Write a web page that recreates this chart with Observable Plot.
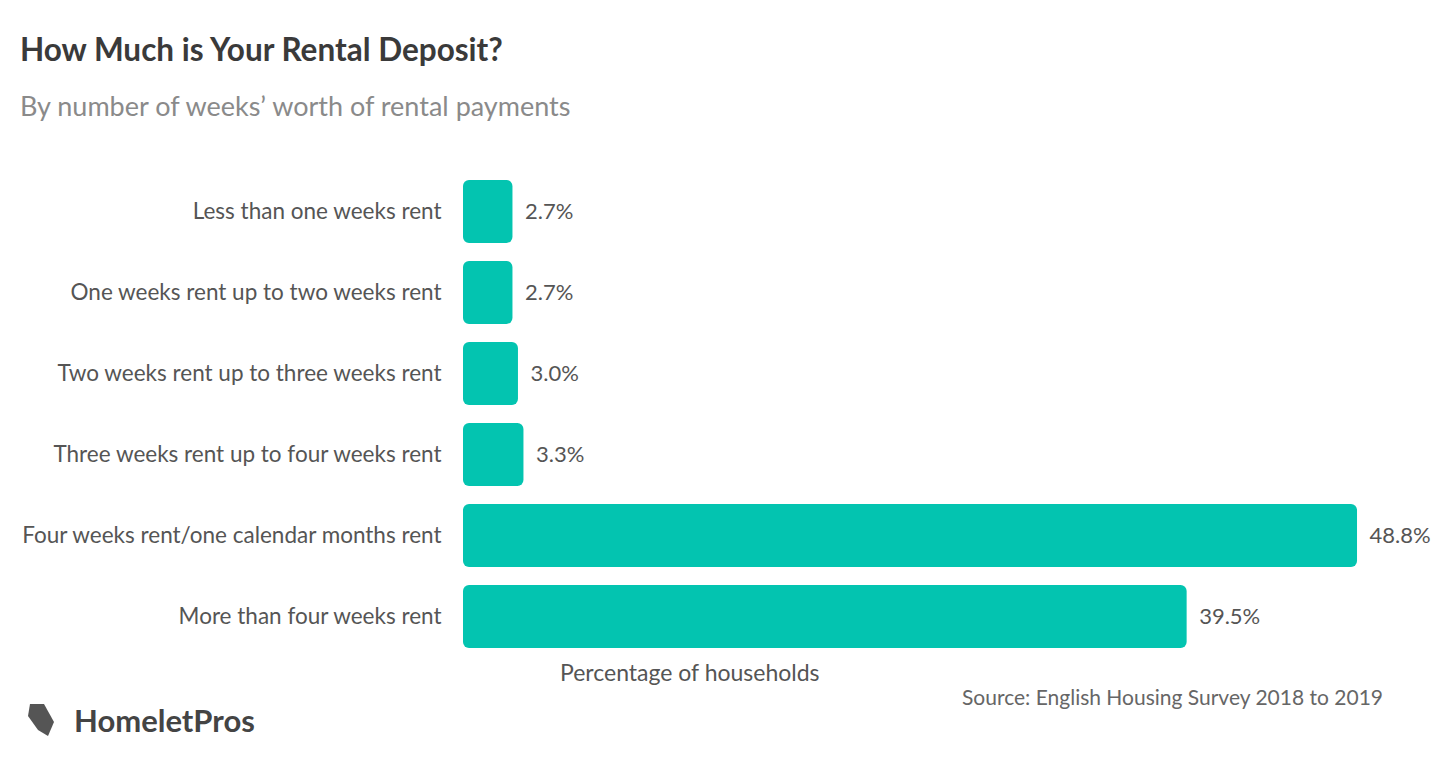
<!DOCTYPE html>
<html>
<head>
<meta charset="utf-8">
<script src="https://cdn.jsdelivr.net/npm/d3@7"></script>
<script src="https://cdn.jsdelivr.net/npm/@observablehq/plot@0.6"></script>
<style>
  html, body { margin: 0; padding: 0; background: #fff; }
  body { width: 1442px; height: 766px; position: relative; font-family: Lato, "Open Sans", sans-serif; overflow: hidden; }
  .abs { position: absolute; white-space: nowrap; line-height: 1; }
  #title { left: 20px; top: 34px; font-size: 31.5px; font-weight: 700; color: #3a3a3a; }
  #subtitle { left: 20px; top: 92px; font-size: 27px; color: #8a8a8a; }
  #chart { position: absolute; left: 0; top: 150px; }
  #xlabel { left: 560px; top: 661px; font-size: 23px; color: #555; }
  #source { left: 962px; top: 686px; font-size: 21px; color: #666; }
  #logo { left: 24px; top: 700px; font-size: 31px; font-weight: 700; color: #444; display: flex; align-items: center; gap: 14px; }
</style>
</head>
<body>
<div id="title" class="abs">How Much is Your Rental Deposit?</div>
<div id="subtitle" class="abs">By number of weeks’ worth of rental payments</div>
<div id="chart"></div>
<div id="xlabel" class="abs">Percentage of households</div>
<div id="source" class="abs">Source: English Housing Survey 2018 to 2019</div>
<div id="logo" class="abs"><svg width="36" height="40" viewBox="0 0 36 40"><path d="M6 4 L20 4 L30 22 L24 36 L14 30 L4 16 Z" fill="#555"/></svg><span>HomeletPros</span></div>
<script>
const categories = [
  "Less than one weeks rent",
  "One weeks rent up to two weeks rent",
  "Two weeks rent up to three weeks rent",
  "Three weeks rent up to four weeks rent",
  "Four weeks rent/one calendar months rent",
  "More than four weeks rent"
];
const percentages = [2.7, 2.7, 3.0, 3.3, 48.8, 39.5];
const valueLabels = ["2.7%", "2.7%", "3.0%", "3.3%", "48.8%", "39.5%"];

const data = categories.map((c, i) => ({category: c, value: percentages[i], label: valueLabels[i]}));

const chart = Plot.plot({
  width: 1442,
  height: 520,
  marginLeft: 463,
  marginRight: 63,
  marginTop: 19,
  marginBottom: 10,
  style: {fontFamily: "Lato, 'Open Sans', sans-serif", fontSize: "22.5px", color: "#555", background: "transparent"},
  x: {domain: [0, 50], axis: null},
  y: {domain: categories, paddingInner: 0.22, paddingOuter: 0.11, label: null, tickSize: 0, tickPadding: 22},
  marks: [
    Plot.barX(data, {x: "value", y: "category", fill: "#03c4b0", rx: 6}),
    Plot.text(data, {x: "value", y: "category", text: "label", textAnchor: "start", dx: 12, fill: "#555", fontSize: 22})
  ]
});
document.getElementById("chart").appendChild(chart);
</script>
</body>
</html>
